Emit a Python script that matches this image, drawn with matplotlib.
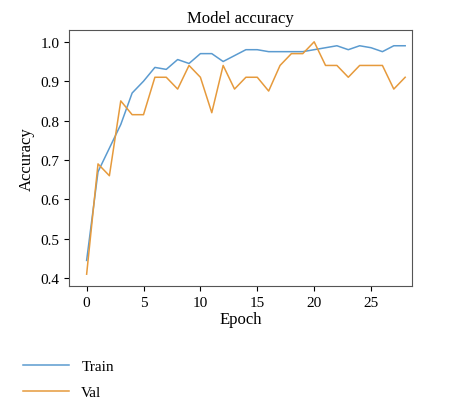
import matplotlib
matplotlib.use("Agg")
import matplotlib.pyplot as plt

plt.rcParams['font.family'] = ['Liberation Serif', 'DejaVu Serif']

epochs = list(range(29))
train_acc = [0.445, 0.67, 0.73, 0.79, 0.87, 0.90, 0.935, 0.93, 0.955, 0.945,
             0.97, 0.97, 0.95, 0.965, 0.98, 0.98, 0.975, 0.975, 0.975, 0.975,
             0.98, 0.985, 0.99, 0.98, 0.99, 0.985, 0.975, 0.99, 0.99]
val_acc = [0.41, 0.69, 0.66, 0.85, 0.815, 0.815, 0.91, 0.91, 0.88, 0.94,
           0.91, 0.82, 0.94, 0.88, 0.91, 0.91, 0.875, 0.94, 0.97, 0.97,
           1.0, 0.94, 0.94, 0.91, 0.94, 0.94, 0.94, 0.88, 0.91]

fig = plt.figure(figsize=(4.74, 4.06), dpi=100)
ax = fig.add_axes([69/474, 1 - 287/406, (412-69)/474, (287-31)/406])
l1, = ax.plot(epochs, train_acc, color='#5b9bd0', lw=1.1, label='Train')
l2, = ax.plot(epochs, val_acc, color='#e69a3c', lw=1.1, label='Val')
ax.set_xlim(-1.55, 28.6)
ax.set_ylim(0.38, 1.03)
ax.set_xticks([0, 5, 10, 15, 20, 25])
ax.set_yticks([0.4, 0.5, 0.6, 0.7, 0.8, 0.9, 1.0])
ax.set_yticklabels(['0.4', '0.5', '0.6', '0.7', '0.8', '0.9', '1.0'])
ax.set_title('Model accuracy', fontsize=12)
ax.set_xlabel('Epoch', fontsize=12, labelpad=2)
ax.set_ylabel('Accuracy', fontsize=12)
ax.tick_params(labelsize=11)
for s in ax.spines.values():
    s.set_color('#555555')

fig.legend(handles=[l1, l2], loc='lower left', bbox_to_anchor=(0.02, -0.02),
           frameon=False, fontsize=11, handlelength=3, labelspacing=0.8)

fig.savefig('out.png', dpi=100)
